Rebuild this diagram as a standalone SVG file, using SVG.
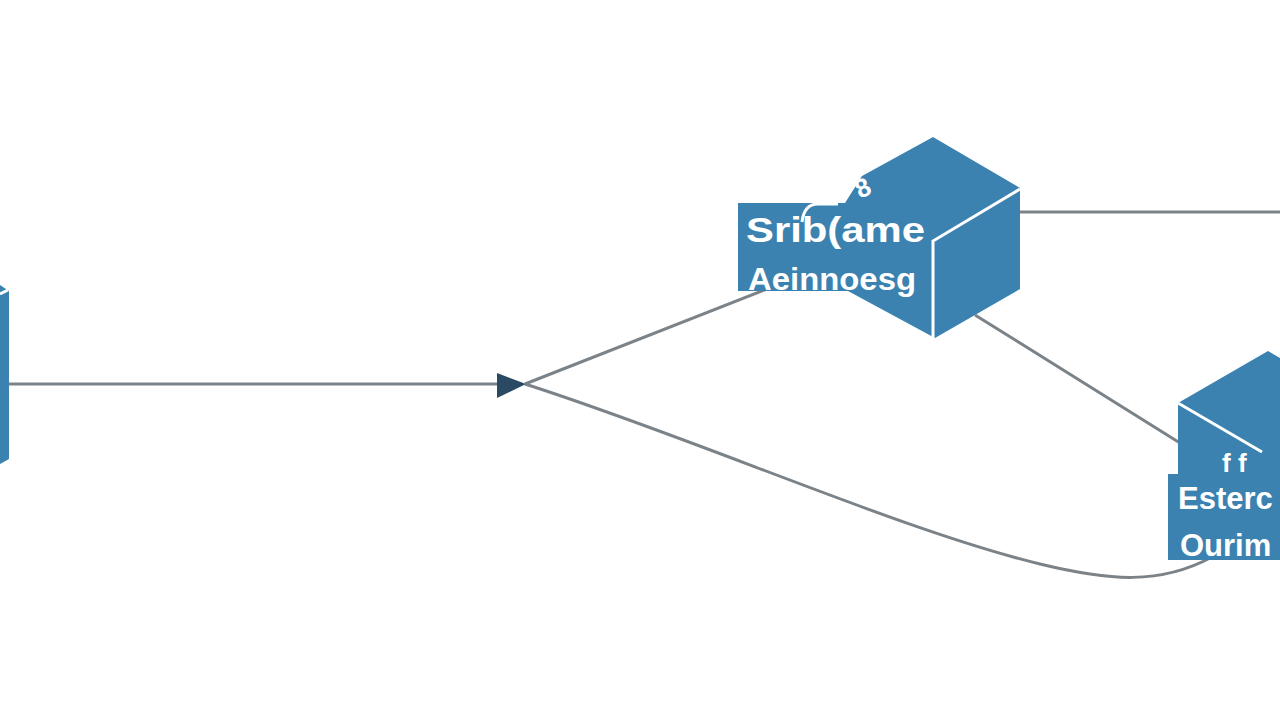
<svg xmlns="http://www.w3.org/2000/svg" width="1280" height="720" viewBox="0 0 1280 720">
<style>
.body{fill:#3b82b1}
.edge{fill:none;stroke:#fff;stroke-width:3}
.conn{fill:none;stroke:#7b8389;stroke-width:3}
.label{fill:#fff;font-family:"Liberation Sans",Arial,sans-serif;font-weight:700;font-size:35px}
.small{font-size:31px}
.glyph{fill:#fff;font-family:"Liberation Sans",Arial,sans-serif;font-weight:700;font-size:26px}
</style>
<rect width="1280" height="720" fill="#fff"/>
<g id="connectors">
<path class="conn" d="M9 384H500"/>
<path class="conn" d="M525 384L772 287"/>
<path class="conn" d="M525 384C700 440 900 530 1040 564C1110 581 1160 585 1212 557"/>
<path class="conn" d="M975 315L1180 443"/>
<path class="conn" d="M1020 212H1280"/>
<polygon points="497,373 526,384 497,398" fill="#2a4a63"/>
</g>
<g id="node-left">
<path class="body" d="M0 285L9 291V459L0 464Z"/>
<path class="edge" stroke-width="2" d="M0 294L8 290"/>
</g>
<g id="node-sub">
<path class="body" d="M933 137L1020 188V289L935 338L848 291H738V203H845L862 176Z"/>
<path class="edge" d="M1020 189L933 241V338"/>
<path class="edge" stroke-width="2" d="M802 222Q804 204 818 204H838"/>
<text class="glyph" transform="translate(860 199) rotate(-25)">8</text>
<text class="label" x="746" y="242" textLength="179" lengthAdjust="spacingAndGlyphs">Srib(ame</text>
<text class="label small" x="748" y="290" textLength="168" lengthAdjust="spacingAndGlyphs">Aeinnoesg</text>
</g>
<g id="node-ext">
<path class="body" d="M1268 351L1280 358V560H1168V474H1178V403Z"/>
<path class="edge" d="M1178 403L1262 452"/>
<text class="glyph" x="1222" y="472">f f</text>
<text class="label small" x="1178" y="509">Esterc</text>
<text class="label small" x="1180" y="556">Ourim</text>
</g>
</svg>
